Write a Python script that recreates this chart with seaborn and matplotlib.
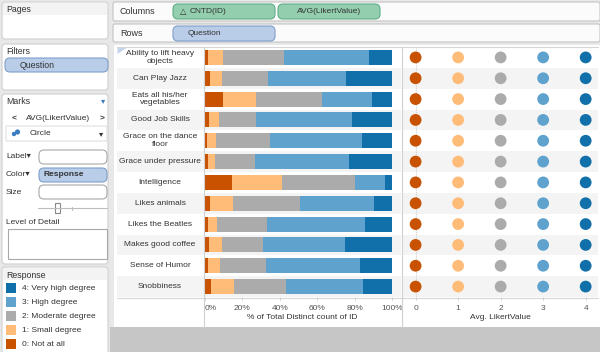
import textwrap
import pandas as pd
import matplotlib.pyplot as plt
from matplotlib.patches import Rectangle, FancyBboxPatch, Polygon
import seaborn as sns

sns.set_theme(style="white")
plt.rcParams['font.family'] = ['Liberation Sans', 'DejaVu Sans']

## data ##
questions = ["Ability to lift heavy objects", "Can Play Jazz", "Eats all his/her vegetables",
             "Good Job Skills", "Grace on the dance floor", "Grace under pressure",
             "Intelligence", "Likes animals", "Likes the Beatles", "Makes good coffee",
             "Sense of Humor", "Snobbiness"]
responses = ["0: Not at all", "1: Small degree", "2: Moderate degree",
             "3: High degree", "4: Very high degree"]
likert_values = [0, 1, 2, 3, 4]
# % of total distinct count of ID, one list per response
pct_0 = [1.8, 2.7, 9.8, 2.0, 1.2, 1.8, 14.2, 2.7, 1.4, 2.0, 1.6, 3.4]
pct_1 = [7.6, 6.4, 17.4, 5.3, 4.5, 3.5, 26.9, 12.2, 5.0, 7.1, 6.4, 12.1]
pct_2 = [32.8, 24.5, 35.1, 19.9, 29.0, 21.2, 39.1, 35.8, 26.7, 21.9, 24.7, 27.7]
pct_3 = [45.5, 41.8, 26.8, 51.4, 49.1, 50.4, 16.1, 39.5, 52.7, 43.9, 50.4, 41.3]
pct_4 = [12.3, 24.6, 10.9, 21.4, 16.2, 23.1, 3.7, 9.8, 14.2, 25.1, 16.9, 15.5]
colors = ["#c85200", "#ffbc79", "#ababab", "#5fa2ce", "#1170aa"]

pct = [pct_0, pct_1, pct_2, pct_3, pct_4]
rows = []
for k, resp in enumerate(responses):
    for i, q in enumerate(questions):
        rows.append({"question": q, "response": resp, "value": likert_values[k],
                     "pct": pct[k][i], "cum": sum(p[i] for p in pct[:k + 1])})
df = pd.DataFrame(rows)
palette = dict(zip(responses, colors))

## figure ##
fig = plt.figure(figsize=(6, 3.52), dpi=100)
W, H = 600, 352


def box(x, y, w, h):
    return [x / W, 1 - (y + h) / H, w / W, h / H]


bg = fig.add_axes([0, 0, 1, 1])
bg.set_xlim(0, W)
bg.set_ylim(H, 0)
bg.axis('off')


def panel(ax, x, y, w, h, fc='white', ec='#cfcfcf', r=3, lw=0.8):
    ax.add_patch(FancyBboxPatch((x, y), w, h, boxstyle=f"round,pad=0,rounding_size={r}",
                                fc=fc, ec=ec, lw=lw))


def t(ax, x, y, s, **kw):
    kw.setdefault('fontsize', 6)
    kw.setdefault('color', '#333333')
    kw.setdefault('va', 'center')
    ax.text(x, y, s, **kw)


bg.add_patch(Rectangle((0, 0), W, H, fc='#e8e8e8', lw=0))
bg.add_patch(Rectangle((110, 327), 490, 25, fc='#c6c6c6', lw=0))

# left side cards
panel(bg, 2, 2, 106, 37)
bg.add_patch(Rectangle((3, 3), 104, 12, fc='#f3f3f3', lw=0))
t(bg, 6, 9, "Pages", fontsize=6.3)

panel(bg, 2, 44, 106, 46)
t(bg, 6, 51, "Filters", fontsize=6.3)
panel(bg, 5, 58, 103, 14, fc='#b9cde8', ec='#7f9fcb', r=5)
t(bg, 20, 65, "Question", fontsize=6.3)

panel(bg, 2, 94, 106, 170)
t(bg, 6, 102, "Marks", fontsize=6.3)
t(bg, 103, 101, "▾", color='#3b7bbf', family='DejaVu Sans', ha='center')
t(bg, 12, 119, "<", fontweight='bold')
t(bg, 26, 119, "AVG(LikertValue)")
t(bg, 100, 119, ">", fontweight='bold')
panel(bg, 6, 126, 101, 15, ec='#e0e0e0', r=1)
bg.scatter([14, 17.5], [134, 132], s=[10, 14], color='#3b7bbf', lw=0)
t(bg, 30, 133.5, "Circle")
t(bg, 101, 133.5, "▾", family='DejaVu Sans', ha='center')
t(bg, 6, 157, "Label▾", family=['Liberation Sans', 'DejaVu Sans'])
panel(bg, 39, 150, 68, 14, ec='#a8a8a8', r=5)
t(bg, 6, 175, "Color▾", family=['Liberation Sans', 'DejaVu Sans'])
panel(bg, 39, 168, 68, 14, fc='#b9cde8', ec='#7f9fcb', r=5)
t(bg, 44, 175, "Response", fontweight='bold')
t(bg, 6, 192, "Size")
panel(bg, 39, 185, 68, 14, ec='#a8a8a8', r=5)
bg.plot([38, 107], [208, 208], color='#bdbdbd', lw=0.8)
bg.plot([72, 72], [206.5, 209.5], color='#bdbdbd', lw=0.8)
bg.add_patch(Rectangle((55, 203), 5, 10, fc='white', ec='#888888', lw=0.8))
t(bg, 6, 222, "Level of Detail")
bg.add_patch(Rectangle((8, 229), 99, 30, fc='white', ec='#a8a8a8', lw=0.8))

panel(bg, 2, 267, 106, 92)
bg.add_patch(Rectangle((3, 268), 104, 12, fc='#f3f3f3', lw=0))
t(bg, 6, 275, "Response", fontsize=6.3)
for j, k in enumerate(reversed(likert_values)):
    y = 288 + 14 * j
    bg.add_patch(Rectangle((6, y - 5.5), 10, 10, fc=colors[k], lw=0))
    t(bg, 22, y, responses[k])

# shelves
panel(bg, 113, 2, 487, 19, fc='#fbfbfb', ec='#c4c4c4', r=2)
t(bg, 120, 11.5, "Columns", fontsize=6.5)
panel(bg, 173, 4, 102, 15, fc='#93cfae', ec='#5fae88', r=5)
t(bg, 180, 11.5, "△", family='DejaVu Sans', fontsize=6)
t(bg, 190, 11.5, "CNTD(ID)")
panel(bg, 278, 4, 102, 15, fc='#93cfae', ec='#5fae88', r=5)
t(bg, 329, 11.5, "AVG(LikertValue)", ha='center')
panel(bg, 113, 24, 487, 18, fc='#fbfbfb', ec='#c4c4c4', r=2)
t(bg, 120, 33, "Rows", fontsize=6.5)
panel(bg, 173, 26, 102, 15, fc='#b9cde8', ec='#7f9fcb', r=5)
t(bg, 188, 33.5, "Question")

# chart sheet
bg.add_patch(Rectangle((114, 45), 486, 282, fc='white', lw=0))

n = len(questions)

# row headers
ax_h = fig.add_axes(box(117, 47, 86, 250))
ax_h.set_facecolor('none')
ax_h.set_xlim(0, 1)
ax_h.set_ylim(n - 0.5, -0.5)
for i, q in enumerate(questions):
    if i % 2 == 1:
        ax_h.axhspan(i - 0.5, i + 0.5, color='#f4f4f4', lw=0, zorder=0)
    ax_h.text(0.5, i, textwrap.fill(q, 21), ha='center', va='center',
              fontsize=6, color='#333333', linespacing=1.15)
ax_h.axis('off')

# stacked bars
ax_b = fig.add_axes(box(203, 47, 198, 250))
ax_b.set_facecolor('none')
for k in reversed(likert_values):
    sns.barplot(data=df[df["value"] == k], x="cum", y="question", order=questions,
                color=colors[k], orient='y', width=0.72, errorbar=None,
                saturation=1, linewidth=0, ax=ax_b)
for i in range(n):
    if i % 2 == 1:
        ax_b.axhspan(i - 0.5, i + 0.5, color='#f4f4f4', lw=0, zorder=0)
ax_b.set_xlim(-1.07, 104.8)
ax_b.set_ylim(n - 0.5, -0.5)
ax_b.set_yticks([])
ax_b.set_ylabel('')
ax_b.set_xticks([0, 20, 40, 60, 80, 100])
ax_b.set_xticklabels([f"{v}%" for v in [0, 20, 40, 60, 80, 100]])
ax_b.get_xticklabels()[0].set_ha('left')
ax_b.tick_params(axis='x', bottom=True, length=2.5, width=0.6, color='#c0c0c0',
                 labelsize=6, labelcolor='#555555', pad=3)
ax_b.set_xlabel("% of Total Distinct count of ID", fontsize=6, color='#333333', labelpad=1.5)
sns.despine(ax=ax_b, left=True, bottom=True)

# dot panel
ax_d = fig.add_axes(box(402, 47, 196, 250))
ax_d.set_facecolor('none')
for i in range(n):
    if i % 2 == 1:
        ax_d.axhspan(i - 0.5, i + 0.5, color='#f4f4f4', lw=0, zorder=0)
ax_d.axvline(0, color='#cfcfcf', lw=0.8, ls=(0, (1, 1)), zorder=1)
sns.scatterplot(data=df, x="value", y="question", hue="response", palette=palette,
                s=72, linewidth=0, legend=False, ax=ax_d, zorder=3)
ax_d.set_xlim(-0.32, 4.29)
ax_d.set_ylim(n - 0.5, -0.5)
ax_d.set_yticks([])
ax_d.set_ylabel('')
ax_d.set_xticks(likert_values)
ax_d.tick_params(axis='x', bottom=True, length=2.5, width=0.6, color='#c0c0c0',
                 labelsize=6, labelcolor='#555555', pad=3)
ax_d.set_xlabel("Avg. LikertValue", fontsize=6, color='#333333', labelpad=1.5)
sns.despine(ax=ax_d, left=True, bottom=True)

# grid lines on top
ov = fig.add_axes([0, 0, 1, 1], zorder=5)
ov.set_xlim(0, W)
ov.set_ylim(H, 0)
ov.axis('off')
ov.patch.set_alpha(0)
ov.plot([117, 598], [46.5, 46.5], color='#d6d6d6', lw=0.8)
ov.plot([117, 598], [297.5, 297.5], color='#d6d6d6', lw=0.8)
ov.plot([203.5, 203.5], [46.5, 327], color='#d0d0d0', lw=0.8)
ov.plot([402, 402], [46.5, 327], color='#d0d0d0', lw=0.8)
ov.add_patch(Polygon([(117.5, 47), (128, 47), (117.5, 54)], fc='#c3d5ea', lw=0))

fig.savefig("out.png", dpi=100)
